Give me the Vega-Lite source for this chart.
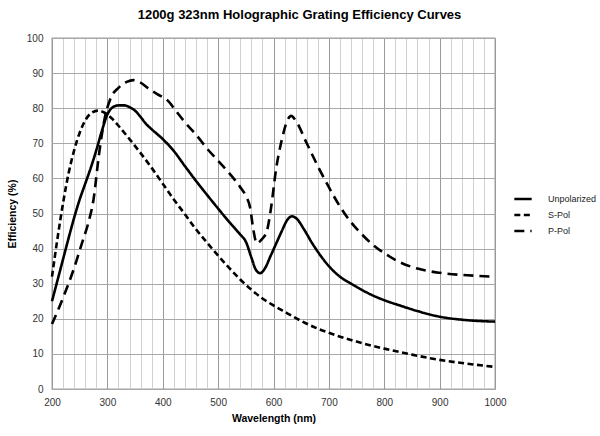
{
  "$schema": "https://vega.github.io/schema/vega-lite/v6.json",
  "description": "1200g 323nm Holographic Grating Efficiency Curves",
  "autosize": "none",
  "width": 443,
  "height": 351,
  "padding": {"left": 52, "top": 38, "right": 105, "bottom": 47},
  "background": "white",
  "title": {
    "text": "1200g 323nm Holographic Grating Efficiency Curves",
    "font": "Liberation Sans",
    "fontSize": 13,
    "fontWeight": "bold",
    "color": "#000",
    "anchor": "middle",
    "dx": 26,
    "offset": 11
  },
  "config": {
    "font": "Liberation Sans",
    "view": {"stroke": "#c0c0c0", "strokeWidth": 1.5},
    "axis": {
      "labelFont": "Liberation Sans",
      "labelFontSize": 10,
      "labelColor": "#333",
      "labelFlush": false,
      "titleFont": "Liberation Sans",
      "titleFontSize": 10.5,
      "titleFontWeight": "bold",
      "titleColor": "#000",
      "ticks": false,
      "domain": false
    }
  },
  "data": {
    "values": [
      {"nm": 200, "eff": 25, "series": "Unpolarized"},
      {"nm": 210, "eff": 31, "series": "Unpolarized"},
      {"nm": 220, "eff": 37, "series": "Unpolarized"},
      {"nm": 230, "eff": 43, "series": "Unpolarized"},
      {"nm": 240, "eff": 48.8, "series": "Unpolarized"},
      {"nm": 250, "eff": 54, "series": "Unpolarized"},
      {"nm": 260, "eff": 58.5, "series": "Unpolarized"},
      {"nm": 270, "eff": 63, "series": "Unpolarized"},
      {"nm": 280, "eff": 68, "series": "Unpolarized"},
      {"nm": 290, "eff": 73.5, "series": "Unpolarized"},
      {"nm": 300, "eff": 78.2, "series": "Unpolarized"},
      {"nm": 310, "eff": 80.3, "series": "Unpolarized"},
      {"nm": 320, "eff": 80.8, "series": "Unpolarized"},
      {"nm": 330, "eff": 80.8, "series": "Unpolarized"},
      {"nm": 340, "eff": 80.3, "series": "Unpolarized"},
      {"nm": 350, "eff": 79.3, "series": "Unpolarized"},
      {"nm": 360, "eff": 77.5, "series": "Unpolarized"},
      {"nm": 370, "eff": 75.5, "series": "Unpolarized"},
      {"nm": 380, "eff": 74, "series": "Unpolarized"},
      {"nm": 400, "eff": 71.2, "series": "Unpolarized"},
      {"nm": 420, "eff": 67.8, "series": "Unpolarized"},
      {"nm": 440, "eff": 63.5, "series": "Unpolarized"},
      {"nm": 460, "eff": 59.3, "series": "Unpolarized"},
      {"nm": 480, "eff": 55.3, "series": "Unpolarized"},
      {"nm": 500, "eff": 51.4, "series": "Unpolarized"},
      {"nm": 520, "eff": 47.6, "series": "Unpolarized"},
      {"nm": 540, "eff": 44, "series": "Unpolarized"},
      {"nm": 550, "eff": 42, "series": "Unpolarized"},
      {"nm": 560, "eff": 37.5, "series": "Unpolarized"},
      {"nm": 568, "eff": 34, "series": "Unpolarized"},
      {"nm": 576, "eff": 33, "series": "Unpolarized"},
      {"nm": 585, "eff": 34.5, "series": "Unpolarized"},
      {"nm": 595, "eff": 38, "series": "Unpolarized"},
      {"nm": 605, "eff": 41.5, "series": "Unpolarized"},
      {"nm": 615, "eff": 45, "series": "Unpolarized"},
      {"nm": 625, "eff": 48.2, "series": "Unpolarized"},
      {"nm": 633, "eff": 49.2, "series": "Unpolarized"},
      {"nm": 642, "eff": 48.5, "series": "Unpolarized"},
      {"nm": 655, "eff": 45.5, "series": "Unpolarized"},
      {"nm": 670, "eff": 41.5, "series": "Unpolarized"},
      {"nm": 685, "eff": 38, "series": "Unpolarized"},
      {"nm": 700, "eff": 35, "series": "Unpolarized"},
      {"nm": 720, "eff": 32, "series": "Unpolarized"},
      {"nm": 740, "eff": 30, "series": "Unpolarized"},
      {"nm": 760, "eff": 28.2, "series": "Unpolarized"},
      {"nm": 780, "eff": 26.6, "series": "Unpolarized"},
      {"nm": 800, "eff": 25.3, "series": "Unpolarized"},
      {"nm": 830, "eff": 23.7, "series": "Unpolarized"},
      {"nm": 860, "eff": 22.2, "series": "Unpolarized"},
      {"nm": 900, "eff": 20.6, "series": "Unpolarized"},
      {"nm": 950, "eff": 19.6, "series": "Unpolarized"},
      {"nm": 1000, "eff": 19.2, "series": "Unpolarized"},

      {"nm": 200, "eff": 32, "series": "S-Pol"},
      {"nm": 210, "eff": 43, "series": "S-Pol"},
      {"nm": 220, "eff": 53, "series": "S-Pol"},
      {"nm": 230, "eff": 61.5, "series": "S-Pol"},
      {"nm": 240, "eff": 68, "series": "S-Pol"},
      {"nm": 250, "eff": 73, "series": "S-Pol"},
      {"nm": 260, "eff": 76.5, "series": "S-Pol"},
      {"nm": 270, "eff": 78.5, "series": "S-Pol"},
      {"nm": 283, "eff": 79.3, "series": "S-Pol"},
      {"nm": 295, "eff": 78.7, "series": "S-Pol"},
      {"nm": 310, "eff": 76.8, "series": "S-Pol"},
      {"nm": 320, "eff": 75, "series": "S-Pol"},
      {"nm": 340, "eff": 71.2, "series": "S-Pol"},
      {"nm": 360, "eff": 67.2, "series": "S-Pol"},
      {"nm": 380, "eff": 63, "series": "S-Pol"},
      {"nm": 400, "eff": 58.5, "series": "S-Pol"},
      {"nm": 420, "eff": 54, "series": "S-Pol"},
      {"nm": 440, "eff": 49.8, "series": "S-Pol"},
      {"nm": 460, "eff": 45.5, "series": "S-Pol"},
      {"nm": 480, "eff": 41.7, "series": "S-Pol"},
      {"nm": 500, "eff": 38, "series": "S-Pol"},
      {"nm": 520, "eff": 34.5, "series": "S-Pol"},
      {"nm": 540, "eff": 31.2, "series": "S-Pol"},
      {"nm": 560, "eff": 28.3, "series": "S-Pol"},
      {"nm": 580, "eff": 25.8, "series": "S-Pol"},
      {"nm": 600, "eff": 23.8, "series": "S-Pol"},
      {"nm": 620, "eff": 22, "series": "S-Pol"},
      {"nm": 650, "eff": 19.4, "series": "S-Pol"},
      {"nm": 680, "eff": 17.2, "series": "S-Pol"},
      {"nm": 700, "eff": 16, "series": "S-Pol"},
      {"nm": 750, "eff": 13.5, "series": "S-Pol"},
      {"nm": 800, "eff": 11.5, "series": "S-Pol"},
      {"nm": 850, "eff": 9.8, "series": "S-Pol"},
      {"nm": 900, "eff": 8.3, "series": "S-Pol"},
      {"nm": 950, "eff": 7.2, "series": "S-Pol"},
      {"nm": 1000, "eff": 6.3, "series": "S-Pol"},

      {"nm": 200, "eff": 18.5, "series": "P-Pol"},
      {"nm": 220, "eff": 26, "series": "P-Pol"},
      {"nm": 240, "eff": 34.5, "series": "P-Pol"},
      {"nm": 255, "eff": 42, "series": "P-Pol"},
      {"nm": 265, "eff": 47, "series": "P-Pol"},
      {"nm": 275, "eff": 54, "series": "P-Pol"},
      {"nm": 285, "eff": 67, "series": "P-Pol"},
      {"nm": 295, "eff": 77, "series": "P-Pol"},
      {"nm": 305, "eff": 82.5, "series": "P-Pol"},
      {"nm": 320, "eff": 85.8, "series": "P-Pol"},
      {"nm": 335, "eff": 87.5, "series": "P-Pol"},
      {"nm": 347, "eff": 88, "series": "P-Pol"},
      {"nm": 360, "eff": 87.3, "series": "P-Pol"},
      {"nm": 375, "eff": 85.5, "series": "P-Pol"},
      {"nm": 390, "eff": 84, "series": "P-Pol"},
      {"nm": 410, "eff": 82, "series": "P-Pol"},
      {"nm": 425, "eff": 79, "series": "P-Pol"},
      {"nm": 440, "eff": 76, "series": "P-Pol"},
      {"nm": 460, "eff": 72.5, "series": "P-Pol"},
      {"nm": 480, "eff": 68.5, "series": "P-Pol"},
      {"nm": 500, "eff": 65, "series": "P-Pol"},
      {"nm": 520, "eff": 61.5, "series": "P-Pol"},
      {"nm": 540, "eff": 57.5, "series": "P-Pol"},
      {"nm": 550, "eff": 55, "series": "P-Pol"},
      {"nm": 558, "eff": 51.5, "series": "P-Pol"},
      {"nm": 563, "eff": 46, "series": "P-Pol"},
      {"nm": 570, "eff": 41.5, "series": "P-Pol"},
      {"nm": 578, "eff": 42.5, "series": "P-Pol"},
      {"nm": 588, "eff": 45, "series": "P-Pol"},
      {"nm": 595, "eff": 51, "series": "P-Pol"},
      {"nm": 605, "eff": 63, "series": "P-Pol"},
      {"nm": 615, "eff": 71, "series": "P-Pol"},
      {"nm": 625, "eff": 76.5, "series": "P-Pol"},
      {"nm": 632, "eff": 77.8, "series": "P-Pol"},
      {"nm": 640, "eff": 76.5, "series": "P-Pol"},
      {"nm": 660, "eff": 70, "series": "P-Pol"},
      {"nm": 680, "eff": 63.5, "series": "P-Pol"},
      {"nm": 700, "eff": 57.5, "series": "P-Pol"},
      {"nm": 720, "eff": 52, "series": "P-Pol"},
      {"nm": 740, "eff": 47.5, "series": "P-Pol"},
      {"nm": 760, "eff": 44, "series": "P-Pol"},
      {"nm": 780, "eff": 41, "series": "P-Pol"},
      {"nm": 800, "eff": 38.7, "series": "P-Pol"},
      {"nm": 830, "eff": 36, "series": "P-Pol"},
      {"nm": 860, "eff": 34.3, "series": "P-Pol"},
      {"nm": 900, "eff": 33.1, "series": "P-Pol"},
      {"nm": 950, "eff": 32.4, "series": "P-Pol"},
      {"nm": 1000, "eff": 32, "series": "P-Pol"}
    ]
  },
  "mark": {"type": "line", "interpolate": "monotone", "strokeWidth": 2.6, "color": "black"},
  "encoding": {
    "x": {
      "field": "nm",
      "type": "quantitative",
      "scale": {"domain": [200, 1000], "nice": false, "zero": false},
      "axis": {
        "title": "Wavelength (nm)",
        "format": "d",
        "values": [200, 220, 240, 260, 280, 300, 320, 340, 360, 380, 400, 420, 440, 460, 480, 500, 520, 540, 560, 580, 600, 620, 640, 660, 680, 700, 720, 740, 760, 780, 800, 820, 840, 860, 880, 900, 920, 940, 960, 980, 1000],
        "labelExpr": "datum.value % 100 === 0 ? datum.label : ''",
        "labelPadding": 8,
        "titlePadding": 6,
        "gridColor": {"condition": {"test": "datum.value % 100 === 0", "value": "#9a9a9a"}, "value": "#d0d0d0"},
        "gridWidth": 1
      }
    },
    "y": {
      "field": "eff",
      "type": "quantitative",
      "scale": {"domain": [0, 100], "nice": false},
      "axis": {
        "title": "Efficiency (%)",
        "values": [0, 10, 20, 30, 40, 50, 60, 70, 80, 90, 100],
        "labelPadding": 9,
        "titlePadding": 9,
        "gridColor": "#a8a8a8",
        "gridWidth": 1
      }
    },
    "strokeDash": {
      "field": "series",
      "type": "nominal",
      "scale": {
        "domain": ["Unpolarized", "S-Pol", "P-Pol"],
        "range": [[1, 0], [6, 3.5], [10, 6]]
      },
      "legend": {
        "title": null,
        "orient": "none",
        "legendX": 461,
        "legendY": 151,
        "symbolType": "stroke",
        "symbolSize": 300,
        "symbolStrokeColor": "black",
        "symbolStrokeWidth": 2.6,
        "labelFont": "Liberation Sans",
        "labelFontSize": 9,
        "labelColor": "#222",
        "labelOffset": 15,
        "rowPadding": 0
      }
    }
  }
}
